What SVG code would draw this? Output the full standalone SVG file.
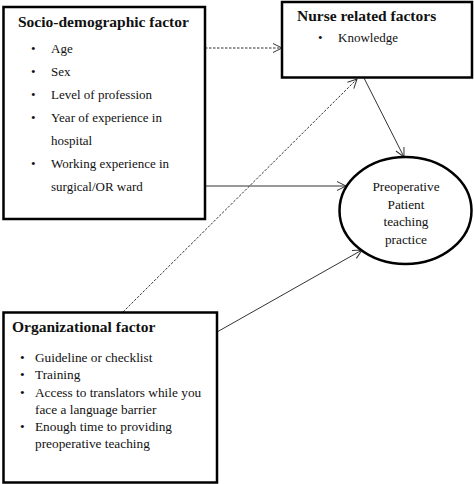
<svg xmlns="http://www.w3.org/2000/svg" width="474" height="484" viewBox="0 0 474 484">
<style>
.box{fill:#fff;stroke:#000;stroke-width:2.5}
.t{font-family:"Liberation Serif",serif;fill:#111}
.h{font-size:15.5px;font-weight:bold}
.b{font-size:13px}
.o{font-size:13.3px}
.c{font-size:13.3px;text-anchor:middle}
.ln{fill:none;stroke:#333;stroke-width:1}
.ds{stroke-dasharray:2.5 1.5}
</style>
<defs>
<marker id="ah" markerWidth="12" markerHeight="12" refX="10" refY="6" orient="auto" markerUnits="userSpaceOnUse">
<path d="M1,1.5 L10,6 L1,10.5" fill="none" stroke="#333" stroke-width="1"/>
</marker>
</defs>
<rect width="474" height="484" fill="#fff"/>
<g id="connectors">
<line class="ln ds" x1="205" y1="48" x2="282" y2="48" marker-end="url(#ah)"/>
<line class="ln" x1="205" y1="186" x2="346" y2="186" marker-end="url(#ah)"/>
<line class="ln ds" x1="123" y1="312" x2="357" y2="79" marker-end="url(#ah)"/>
<line class="ln" x1="364" y1="78" x2="404" y2="157" marker-end="url(#ah)"/>
<line class="ln" x1="217" y1="332" x2="362" y2="250" marker-end="url(#ah)"/>
</g>
<g id="socio">
<rect class="box" x="3.5" y="7" width="201.5" height="212"/>
<text class="t h" x="18" y="27">Socio-demographic factor</text>
<g class="t b">
<text x="31" y="53">•</text><text x="51" y="53">Age</text>
<text x="31" y="76">•</text><text x="51" y="76">Sex</text>
<text x="31" y="99">•</text><text x="51" y="99">Level of profession</text>
<text x="31" y="122">•</text><text x="51" y="122">Year of experience in</text>
<text x="51" y="145">hospital</text>
<text x="31" y="168">•</text><text x="51" y="168">Working experience in</text>
<text x="51" y="191">surgical/OR ward</text>
</g>
</g>
<g id="nurse">
<rect class="box" x="282" y="2" width="190" height="75.5"/>
<text class="t h" x="297" y="21">Nurse related factors</text>
<g class="t b">
<text x="318" y="42">•</text><text x="338" y="42">Knowledge</text>
</g>
</g>
<g id="outcome">
<ellipse cx="405.5" cy="210.5" rx="66" ry="53.5" fill="#fff" stroke="#000" stroke-width="2.5"/>
<g class="t c">
<text x="406" y="191">Preoperative</text>
<text x="406" y="208.5">Patient</text>
<text x="406" y="226">teaching</text>
<text x="406" y="243.5">practice</text>
</g>
</g>
<g id="org">
<rect class="box" x="3.5" y="312.5" width="213.5" height="170"/>
<text class="t h" x="12" y="332">Organizational factor</text>
<g class="t o">
<text x="20" y="362">•</text><text x="35" y="362">Guideline or checklist</text>
<text x="20" y="379">•</text><text x="35" y="379">Training</text>
<text x="20" y="397">•</text><text x="35" y="397">Access to translators while you</text>
<text x="35" y="414">face a language barrier</text>
<text x="20" y="431">•</text><text x="35" y="431">Enough time to providing</text>
<text x="35" y="448">preoperative teaching</text>
</g>
</g>
</svg>
